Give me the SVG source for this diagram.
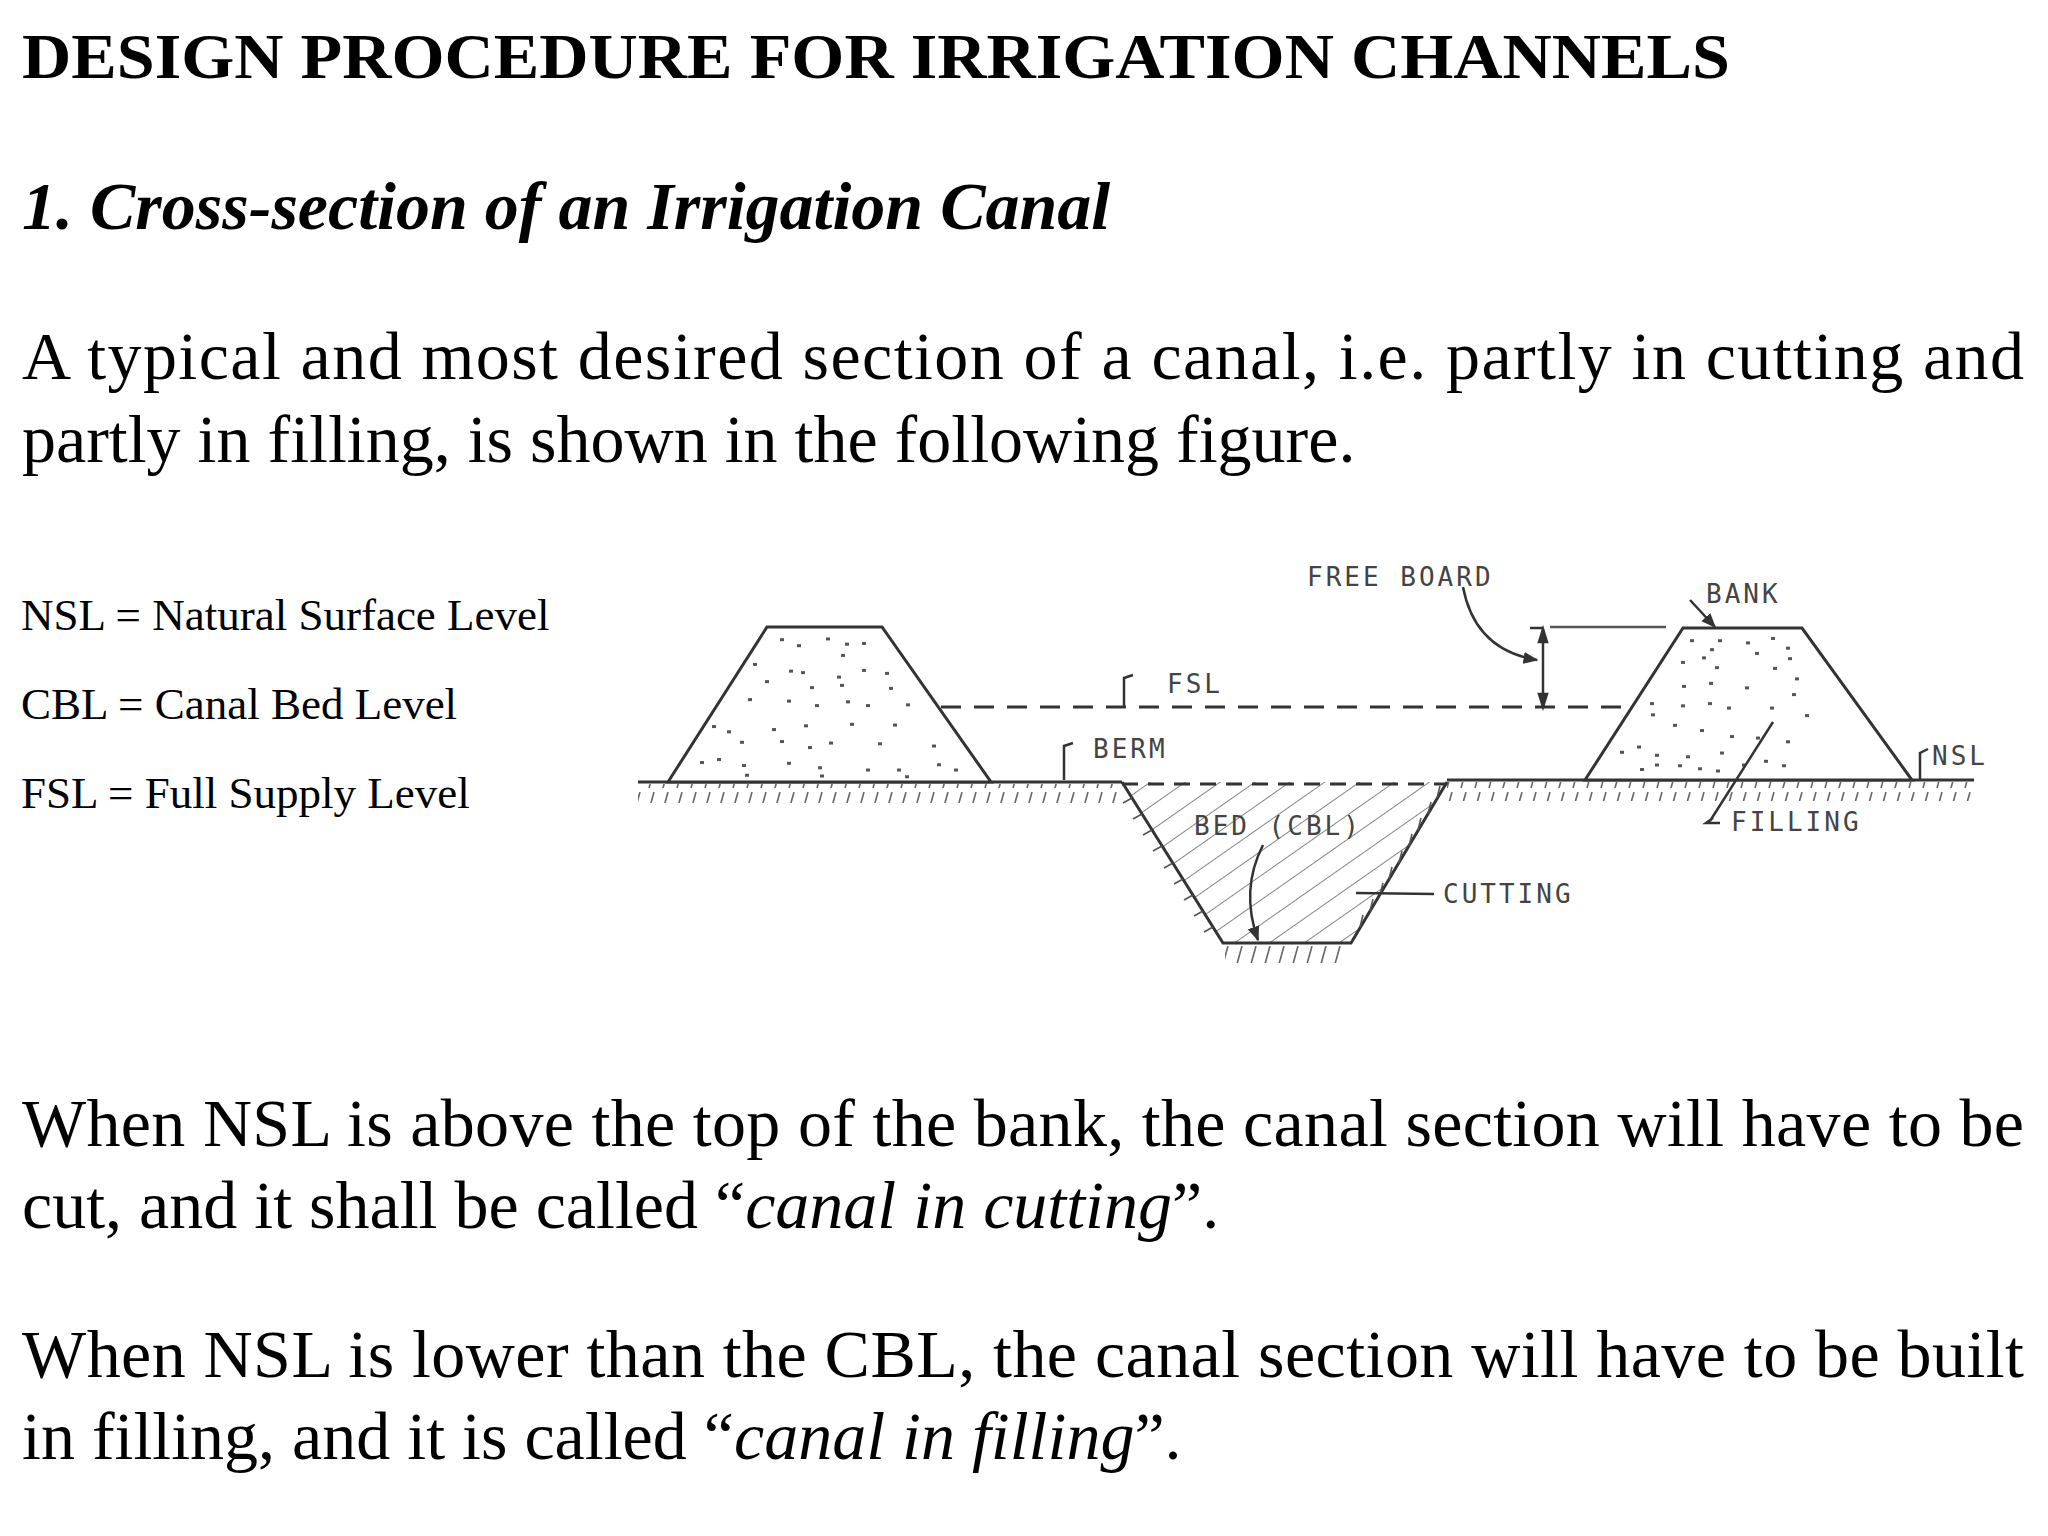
<svg xmlns="http://www.w3.org/2000/svg" width="2048" height="1536" viewBox="0 0 2048 1536">
<style>
.t{font-family:"Liberation Serif","Times New Roman",serif;fill:#000}
.d{font-family:"DejaVu Sans Mono","Liberation Mono",monospace;font-size:26px;fill:#444;letter-spacing:3px}
.ln{stroke:#333;stroke-width:3;fill:none}
.th{stroke:#555;stroke-width:1.6;fill:none}
.dot{fill:#555}
</style>
<defs>
<pattern id="gh" width="14" height="22" patternUnits="userSpaceOnUse"><line x1="10" y1="0" x2="5" y2="18" stroke="#666" stroke-width="1.6"/></pattern>
<pattern id="ch" width="20" height="20" patternUnits="userSpaceOnUse" patternTransform="rotate(-35)"><line x1="0" y1="0" x2="20" y2="0" stroke="#666" stroke-width="1.6"/></pattern>
<marker id="ah" viewBox="0 0 10 10" refX="9" refY="5" markerWidth="6" markerHeight="6" orient="auto"><path d="M0,1 L10,5 L0,9 z" fill="#333"/></marker>
</defs>
<rect width="2048" height="1536" fill="#fff"/>
<text class="t" x="22" y="78" font-size="64" font-weight="bold" textLength="1708" lengthAdjust="spacingAndGlyphs">DESIGN PROCEDURE FOR IRRIGATION CHANNELS</text>
<text class="t" x="22" y="229" font-size="68" font-weight="bold" font-style="italic">1. Cross-section of an Irrigation Canal</text>
<text class="t" x="22" y="379" font-size="68" textLength="2002" lengthAdjust="spacing">A typical and most desired section of a canal, i.e. partly in cutting and</text>
<text class="t" x="22" y="462" font-size="68">partly in filling, is shown in the following figure.</text>
<text class="t" x="21" y="630" font-size="45">NSL = Natural Surface Level</text>
<text class="t" x="21" y="719" font-size="45">CBL = Canal Bed Level</text>
<text class="t" x="21" y="808" font-size="45">FSL = Full Supply Level</text>
<text class="t" x="22" y="1146" font-size="68" textLength="2002" lengthAdjust="spacing">When NSL is above the top of the bank, the canal section will have to be</text>
<text class="t" x="22" y="1228" font-size="68">cut, and it shall be called “<tspan font-style="italic">canal in cutting</tspan>”.</text>
<text class="t" x="22" y="1377" font-size="68" textLength="2002" lengthAdjust="spacing">When NSL is lower than the CBL, the canal section will have to be built</text>
<text class="t" x="22" y="1459" font-size="68">in filling, and it is called “<tspan font-style="italic">canal in filling</tspan>”.</text>

<g id="ground">
<rect x="638" y="784" width="484" height="19" fill="url(#gh)"/>
<rect x="1447" y="782" width="527" height="19" fill="url(#gh)"/>
<rect x="1225" y="945" width="120" height="18" fill="url(#gh)"/>
<polygon points="1122,782 1447,782 1351,943 1223,943" fill="url(#ch)"/>
<line class="ln" x1="638" y1="782" x2="1122" y2="782"/>
<line class="ln" x1="1447" y1="780" x2="1974" y2="780"/>
<polyline class="ln" points="1122,782 1223,943 1351,943 1447,782"/>
<line class="ln" x1="1122" y1="784" x2="1447" y2="784" stroke-dasharray="16,10" stroke-width="2.5"/>
<g class="th">
<path d="M1132,798 l-9,5 M1142,814 l-9,5 M1152,830 l-9,5 M1162,846 l-9,5 M1173,863 l-9,5 M1183,879 l-9,5 M1193,895 l-9,5 M1203,911 l-9,5 M1213,927 l-9,5"/>
<path d="M1437,798 l3,-12 M1428,814 l3,-12 M1418,830 l3,-12 M1409,846 l3,-12 M1399,863 l3,-12 M1389,879 l3,-12 M1380,895 l3,-12 M1370,911 l3,-12 M1360,927 l3,-12"/>
</g>
</g>
<g id="left-bank">
<polygon points="668,782 767,627 882,627 991,782" fill="#fff" stroke="#333" stroke-width="3"/>
<g class="dot" transform="translate(0,782) scale(1,0.749) translate(0,-864)">
<rect x="780" y="672" width="4" height="4"/><rect x="797" y="680" width="4" height="4"/><rect x="826" y="671" width="4" height="4"/><rect x="845" y="678" width="4" height="4"/><rect x="862" y="677" width="4" height="4"/><rect x="841" y="693" width="4" height="4"/>
<rect x="753" y="705" width="4" height="4"/><rect x="789" y="714" width="4" height="4"/><rect x="801" y="716" width="4" height="4"/><rect x="837" y="722" width="4" height="4"/><rect x="862" y="713" width="4" height="4"/><rect x="885" y="717" width="4" height="4"/>
<rect x="765" y="728" width="4" height="4"/><rect x="810" y="736" width="4" height="4"/><rect x="840" y="733" width="4" height="4"/><rect x="889" y="737" width="4" height="4"/><rect x="748" y="752" width="4" height="4"/><rect x="787" y="754" width="4" height="4"/>
<rect x="815" y="760" width="4" height="4"/><rect x="846" y="755" width="4" height="4"/><rect x="866" y="760" width="4" height="4"/><rect x="906" y="759" width="4" height="4"/><rect x="712" y="788" width="4" height="4"/><rect x="727" y="795" width="4" height="4"/>
<rect x="772" y="792" width="4" height="4"/><rect x="804" y="787" width="4" height="4"/><rect x="850" y="785" width="4" height="4"/><rect x="893" y="786" width="4" height="4"/><rect x="740" y="809" width="4" height="4"/><rect x="780" y="808" width="4" height="4"/>
<rect x="808" y="816" width="4" height="4"/><rect x="829" y="810" width="4" height="4"/><rect x="878" y="811" width="4" height="4"/><rect x="932" y="814" width="4" height="4"/><rect x="700" y="836" width="4" height="4"/><rect x="717" y="832" width="4" height="4"/>
<rect x="742" y="840" width="4" height="4"/><rect x="787" y="837" width="4" height="4"/><rect x="818" y="843" width="4" height="4"/><rect x="866" y="846" width="4" height="4"/><rect x="897" y="846" width="4" height="4"/><rect x="937" y="839" width="4" height="4"/><rect x="954" y="846" width="4" height="4"/><rect x="745" y="853" width="4" height="4"/><rect x="820" y="854" width="4" height="4"/><rect x="905" y="855" width="4" height="4"/>
</g>
</g>
<g id="right-bank">
<polygon points="1585,780 1683,628 1802,628 1912,780" fill="#fff" stroke="#333" stroke-width="3"/>
<g class="dot" transform="translate(0,780) scale(1,0.749) translate(0,-861)">
<rect x="1690" y="673" width="4" height="4"/><rect x="1718" y="673" width="4" height="4"/><rect x="1746" y="676" width="4" height="4"/><rect x="1771" y="670" width="4" height="4"/><rect x="1786" y="683" width="4" height="4"/><rect x="1710" y="685" width="4" height="4"/>
<rect x="1702" y="696" width="4" height="4"/><rect x="1755" y="690" width="4" height="4"/><rect x="1788" y="697" width="4" height="4"/><rect x="1681" y="702" width="4" height="4"/><rect x="1715" y="709" width="4" height="4"/><rect x="1773" y="710" width="4" height="4"/>
<rect x="1795" y="724" width="4" height="4"/><rect x="1682" y="734" width="4" height="4"/><rect x="1709" y="730" width="4" height="4"/><rect x="1745" y="736" width="4" height="4"/><rect x="1792" y="745" width="4" height="4"/><rect x="1650" y="757" width="4" height="4"/>
<rect x="1681" y="760" width="4" height="4"/><rect x="1708" y="757" width="4" height="4"/><rect x="1727" y="763" width="4" height="4"/><rect x="1770" y="763" width="4" height="4"/><rect x="1805" y="773" width="4" height="4"/><rect x="1651" y="772" width="4" height="4"/>
<rect x="1673" y="786" width="4" height="4"/><rect x="1700" y="793" width="4" height="4"/><rect x="1730" y="801" width="4" height="4"/><rect x="1756" y="803" width="4" height="4"/><rect x="1786" y="808" width="4" height="4"/><rect x="1620" y="822" width="4" height="4"/>
<rect x="1637" y="815" width="4" height="4"/><rect x="1655" y="826" width="4" height="4"/><rect x="1686" y="828" width="4" height="4"/><rect x="1720" y="823" width="4" height="4"/><rect x="1764" y="834" width="4" height="4"/><rect x="1640" y="845" width="4" height="4"/>
<rect x="1655" y="839" width="4" height="4"/><rect x="1678" y="840" width="4" height="4"/><rect x="1698" y="844" width="4" height="4"/><rect x="1716" y="847" width="4" height="4"/><rect x="1742" y="839" width="4" height="4"/><rect x="1782" y="840" width="4" height="4"/>
</g>
</g>
<g id="fsl-line">
<line class="ln" x1="941" y1="707" x2="1633" y2="707" stroke-dasharray="20,13" stroke-width="2.5"/>
</g>
<g id="connectors" fill="none" stroke="#333" stroke-width="2.5">
<path d="M1124,706 L1124,678 L1133,675"/>
<path d="M1064,780 L1064,746 L1073,743"/>
<path d="M1463,587 Q1475,650 1537,660" marker-end="url(#ah)"/>
<line x1="1543" y1="629" x2="1543" y2="707"/>
<path d="M1543,629 l-4,13 l8,0 z M1543,707 l-4,-13 l8,0 z" fill="#333"/>
<line x1="1530" y1="628" x2="1543" y2="628"/>
<line x1="1550" y1="627" x2="1666" y2="627" stroke="#555"/>
<path d="M1690,600 L1715,627" marker-end="url(#ah)"/>
<path d="M1920,779 L1920,753 L1928,749"/>
<path d="M1713,818 L1706,823 L1720,823 M1710,821 L1773,722"/>
<line x1="1434" y1="894" x2="1356" y2="893"/>
<path d="M1263,845 Q1240,890 1258,940" marker-end="url(#ah)"/>
</g>
<g id="labels">
<text class="d" x="1307" y="586">FREE BOARD</text>
<text class="d" x="1706" y="603">BANK</text>
<text class="d" x="1167" y="693">FSL</text>
<text class="d" x="1093" y="758">BERM</text>
<text class="d" x="1932" y="765">NSL</text>
<text class="d" x="1194" y="835">BED (CBL)</text>
<text class="d" x="1731" y="831">FILLING</text>
<text class="d" x="1443" y="903">CUTTING</text>
</g>
</svg>
